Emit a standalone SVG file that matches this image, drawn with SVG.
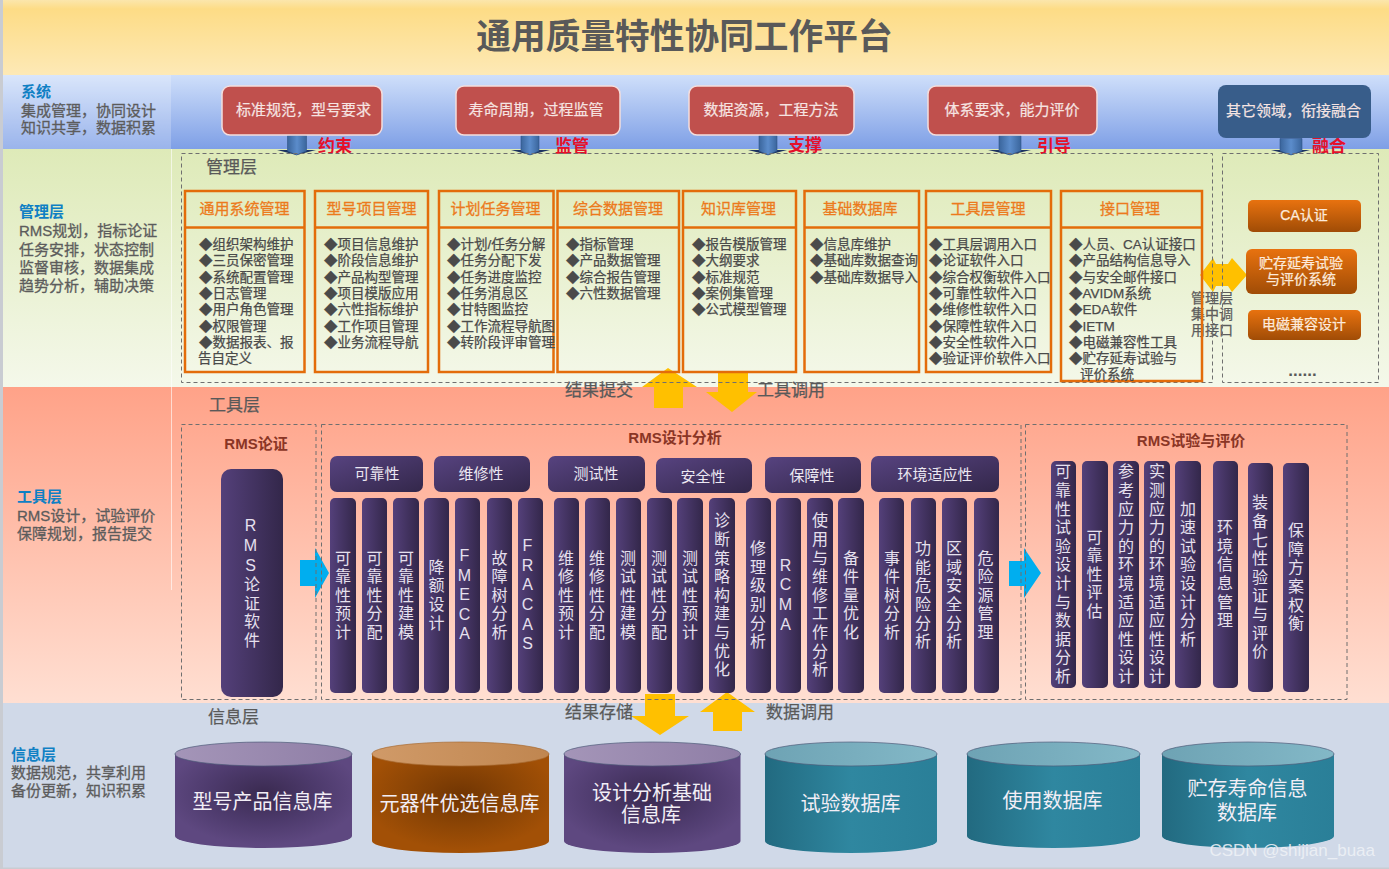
<svg xmlns="http://www.w3.org/2000/svg" width="1389" height="869" viewBox="0 0 1389 869">
<defs>
<linearGradient id="gTitle" x1="0" y1="0" x2="0" y2="1"><stop offset="0" stop-color="#fbe6ac"/><stop offset=".12" stop-color="#fddc86"/><stop offset="1" stop-color="#fde9b6"/></linearGradient>
<linearGradient id="gSys" x1="0" y1="0" x2="0" y2="1"><stop offset="0" stop-color="#cfdffa"/><stop offset="1" stop-color="#7e9fe6"/></linearGradient>
<linearGradient id="gMgmt" x1="0" y1="0" x2="0" y2="1"><stop offset="0" stop-color="#deeab8"/><stop offset="1" stop-color="#f4f8ea"/></linearGradient>
<linearGradient id="gTool" x1="0" y1="0" x2="0" y2="1"><stop offset="0" stop-color="#ffa288"/><stop offset="1" stop-color="#ffdfd2"/></linearGradient>
<linearGradient id="gPillar" x1="0" y1="0" x2="1" y2="0"><stop offset="0" stop-color="#54407a"/><stop offset="1" stop-color="#33274a"/></linearGradient>
<linearGradient id="gChip" x1="0" y1="0" x2="1" y2="1"><stop offset="0" stop-color="#574380"/><stop offset="1" stop-color="#33274a"/></linearGradient>
<linearGradient id="gBlue" x1="0" y1="0" x2="1" y2="0"><stop offset="0" stop-color="#3a659c"/><stop offset=".5" stop-color="#5b8ccb"/><stop offset="1" stop-color="#3a659c"/></linearGradient>
<linearGradient id="gOrange" x1="0" y1="0" x2="0" y2="1"><stop offset="0" stop-color="#e8720f"/><stop offset="1" stop-color="#a04c06"/></linearGradient>
<radialGradient id="cPurple" cx=".5" cy=".42" r=".55"><stop offset="0" stop-color="#3a2a50"/><stop offset=".55" stop-color="#4d3a6c"/><stop offset="1" stop-color="#5e4880"/></radialGradient>
<radialGradient id="cOrange" cx=".5" cy=".42" r=".55"><stop offset="0" stop-color="#703503"/><stop offset=".55" stop-color="#8c4505"/><stop offset="1" stop-color="#a25006"/></radialGradient>
<linearGradient id="cTeal" x1="0" y1="0" x2="1" y2="0"><stop offset="0" stop-color="#226a80"/><stop offset=".5" stop-color="#2f87a0"/><stop offset="1" stop-color="#2a7f98"/></linearGradient>
<linearGradient id="tPurple" x1="0" y1="0" x2="1" y2="0"><stop offset="0" stop-color="#a495b8"/><stop offset="1" stop-color="#8f7ea6"/></linearGradient>
<linearGradient id="tOrange" x1="0" y1="0" x2="1" y2="0"><stop offset="0" stop-color="#d09a68"/><stop offset="1" stop-color="#c08650"/></linearGradient>
<linearGradient id="tTeal" x1="0" y1="0" x2="1" y2="0"><stop offset="0" stop-color="#6ea3b4"/><stop offset="1" stop-color="#83b8c7"/></linearGradient>
</defs>
<style>
text{font-family:"Liberation Sans","Noto Sans CJK SC",sans-serif}
.dash{fill:none;stroke:#6f6f6f;stroke-width:1;stroke-dasharray:4 3}
.box{fill:none;stroke:#e36c0a;stroke-width:2.5}
.hd{font-size:15px;fill:#ec7a1c;stroke:#ec7a1c;stroke-width:.3;text-anchor:middle}
.it{font-size:13.5px;fill:#4a4a4a;stroke:#4a4a4a;stroke-width:.25}
.side{font-size:15px;fill:#5c5c5c;stroke:#5c5c5c;stroke-width:.3}
.sideh{font-size:15px;fill:#0f80c4;font-weight:700}
.lay{font-size:17px;fill:#595959;stroke:#595959;stroke-width:.25}
.small{font-size:14px;fill:#5c5c5c;stroke:#5c5c5c;stroke-width:.25}
.top{fill:#c0504d;stroke:#f4dedd;stroke-width:1.5}
.toptx{font-size:15px;fill:#f6e4e2;stroke:#f6e4e2;stroke-width:.2;text-anchor:middle}
.red{font-size:17px;fill:#e5102a;font-weight:700}
.wing{fill:#1c3360}
.arr{fill:url(#gBlue);stroke:#2f5486;stroke-width:.6}
.yel{fill:#ffc000}
.cy{fill:#00aeef}
.pil{fill:url(#gPillar)}
.chip{fill:url(#gChip)}
.chtx{font-size:15px;fill:#ece8f2;text-anchor:middle}
.v{font-size:16px;fill:#e6e0ee;writing-mode:vertical-rl;text-orientation:upright;text-anchor:middle;letter-spacing:2.6px;transform:translateX(-1.5px)}
.sec{font-size:15px;fill:#8a3525;font-weight:700;text-anchor:middle}
.db{font-size:20px;fill:#f2eef6;text-anchor:middle}
.or{fill:url(#gOrange)}
.ortx{font-size:14px;fill:#fdeadb;stroke:#fdeadb;stroke-width:.25;text-anchor:middle}
.edge{stroke:#4d5a78;stroke-width:.7}
</style>

<g id="bands">
<rect width="1389" height="869" fill="#c9ccd2"/>
<rect x="3" y="0" width="1386" height="75" fill="url(#gTitle)"/>
<rect x="3" y="75" width="1386" height="74" fill="url(#gSys)"/>
<rect x="3" y="75" width="168" height="74" fill="#ffffff" opacity=".22"/>
<rect x="3" y="149" width="1386" height="238" fill="url(#gMgmt)"/>
<rect x="3" y="387" width="1386" height="316" fill="url(#gTool)"/>
<rect x="3" y="703" width="1386" height="164.500" fill="#d0d9e8"/>
<path d="M171.500 149V590" stroke="#fff" stroke-opacity=".6" fill="none"/>
</g>

<text id="title" x="684.500" y="49" font-size="34.700" font-weight="700" fill="#595959" text-anchor="middle">通用质量特性协同工作平台</text>

<g id="side-labels">
<text class="sideh" x="21" y="97">系统</text>
<text class="side" x="21" y="116">集成管理，协同设计</text>
<text class="side" x="21" y="133">知识共享，数据积累</text>
<text class="sideh" x="19" y="217">管理层</text>
<text class="side" x="19" y="236">RMS规划，指标论证</text>
<text class="side" x="19" y="255">任务安排，状态控制</text>
<text class="side" x="19" y="273">监督审核，数据集成</text>
<text class="side" x="19" y="291">趋势分析，辅助决策</text>
<text class="sideh" x="17" y="502">工具层</text>
<text class="side" x="17" y="521">RMS设计，试验评价</text>
<text class="side" x="17" y="539">保障规划，报告提交</text>
<text class="sideh" x="11" y="760">信息层</text>
<text class="side" x="11" y="778">数据规范，共享利用</text>
<text class="side" x="11" y="796">备份更新，知识积累</text>
</g>

<g id="connectors">
<path class="wing" d="M277 150H316L296.500 155Z"/><path class="arr" d="M287.500 135.500H306.500V151L296.500 155L287.500 151Z"/>
<path class="wing" d="M511 150H550L530 155Z"/><path class="arr" d="M521 135.500H539V151L530 155L521 151Z"/>
<path class="wing" d="M748 150H787L768 155Z"/><path class="arr" d="M759 135.500H777V151L768 155L759 151Z"/>
<path class="wing" d="M988 150H1031L1010 155Z"/><path class="arr" d="M999 135.500H1021V151L1010 155L999 151Z"/>
<path class="wing" d="M1271 150H1310L1291 155Z"/><path class="arr" d="M1280 138.500H1302V151L1291 155L1280 151Z"/>
<path class="yel" d="M668 368L697 387H683V408H654V387H642Z"/>
<path class="yel" d="M718 371H748V392H757L732 412L706 392H718Z"/>
<path class="yel" d="M645 694H675V716H689L660 735L631 716H645Z"/>
<path class="yel" d="M727 692L755 712H742V731H713V712H700Z"/>
<path class="yel" d="M1200 275L1213 258L1216 264H1228L1232 258L1247 275L1232 292L1228 286H1216L1213 292Z"/>
<path class="cy" d="M300 560H315V548L329 573L315 598V586H300Z"/>
<path class="cy" d="M1009 561H1024V548L1041 573L1024 598V586H1009Z"/>
</g>

<g id="connector-labels">
<text class="red" x="318" y="152">约束</text>
<text class="red" x="555" y="152">监管</text>
<text class="red" x="788" y="151">支撑</text>
<text class="red" x="1037" y="152">引导</text>
<text class="red" x="1312" y="152">融合</text>
<text class="lay" x="565" y="396">结果提交</text>
<text class="lay" x="757" y="396">工具调用</text>
<text class="lay" x="565" y="718">结果存储</text>
<text class="lay" x="766" y="718">数据调用</text>
<text class="small" x="1191" y="303">管理层</text>
<text class="small" x="1191" y="319">集中调</text>
<text class="small" x="1191" y="335">用接口</text>
</g>

<g id="sys-1"><rect class="top" x="222" y="86" width="160" height="49" rx="8"/><text class="toptx" x="303.500" y="115">标准规范，型号要求</text></g>
<g id="sys-2"><rect class="top" x="456" y="86" width="164" height="49" rx="8"/><text class="toptx" x="536" y="115">寿命周期，过程监管</text></g>
<g id="sys-3"><rect class="top" x="689" y="86" width="165" height="49" rx="8"/><text class="toptx" x="771" y="115">数据资源，工程方法</text></g>
<g id="sys-4"><rect class="top" x="928" y="86" width="169" height="49" rx="8"/><text class="toptx" x="1012" y="115">体系要求，能力评价</text></g>
<g id="sys-5"><rect x="1218" y="85" width="153" height="53" rx="8" fill="#385d8a"/><text class="toptx" x="1293.500" y="116">其它领域，衔接融合</text></g>

<g id="mgmt-frames">
<rect class="dash" x="181.500" y="153.500" width="1031" height="229"/>
<rect class="dash" x="1222.500" y="153.500" width="156" height="229"/>
<text class="lay" x="206" y="173">管理层</text>
</g>

<g id="m1"><rect class="box" x="185" y="191" width="119.500" height="181"/><path class="box" d="M185 227.500H304.500"/><text class="hd" x="244.500" y="214">通用系统管理</text>
<text class="it" x="199" y="249">◆组织架构维护</text><text class="it" x="199" y="265">◆三员保密管理</text><text class="it" x="199" y="281.500">◆系统配置管理</text><text class="it" x="199" y="298">◆日志管理</text><text class="it" x="199" y="314">◆用户角色管理</text><text class="it" x="199" y="330.500">◆权限管理</text><text class="it" x="199" y="347">◆数据报表、报</text><text class="it" x="198" y="363">告自定义</text></g>
<g id="m2"><rect class="box" x="315" y="191" width="113" height="181"/><path class="box" d="M315 227.500H428"/><text class="hd" x="371.500" y="214">型号项目管理</text>
<text class="it" x="324" y="249">◆项目信息维护</text><text class="it" x="324" y="265">◆阶段信息维护</text><text class="it" x="324" y="281.500">◆产品构型管理</text><text class="it" x="324" y="298">◆项目模版应用</text><text class="it" x="324" y="314">◆六性指标维护</text><text class="it" x="324" y="330.500">◆工作项目管理</text><text class="it" x="324" y="347">◆业务流程导航</text></g>
<g id="m3"><rect class="box" x="439" y="191" width="114.500" height="181"/><path class="box" d="M439 227.500H553.500"/><text class="hd" x="495.500" y="214">计划任务管理</text>
<text class="it" x="447" y="249">◆计划/任务分解</text><text class="it" x="447" y="265">◆任务分配下发</text><text class="it" x="447" y="281.500">◆任务进度监控</text><text class="it" x="447" y="298">◆任务消息区</text><text class="it" x="447" y="314">◆甘特图监控</text><text class="it" x="447" y="330.500">◆工作流程导航图</text><text class="it" x="447" y="347">◆转阶段评审管理</text></g>
<g id="m4"><rect class="box" x="557.500" y="191" width="121.500" height="181"/><path class="box" d="M557.500 227.500H679"/><text class="hd" x="618" y="214">综合数据管理</text>
<text class="it" x="566" y="249">◆指标管理</text><text class="it" x="566" y="265">◆产品数据管理</text><text class="it" x="566" y="281.500">◆综合报告管理</text><text class="it" x="566" y="298">◆六性数据管理</text></g>
<g id="m5"><rect class="box" x="683" y="191" width="113" height="181"/><path class="box" d="M683 227.500H796"/><text class="hd" x="738.500" y="214">知识库管理</text>
<text class="it" x="692" y="249">◆报告模版管理</text><text class="it" x="692" y="265">◆大纲要求</text><text class="it" x="692" y="281.500">◆标准规范</text><text class="it" x="692" y="298">◆案例集管理</text><text class="it" x="692" y="314">◆公式模型管理</text></g>
<g id="m6"><rect class="box" x="804.500" y="191" width="114.500" height="181"/><path class="box" d="M804.500 227.500H919"/><text class="hd" x="860" y="214">基础数据库</text>
<text class="it" x="810" y="249">◆信息库维护</text><text class="it" x="810" y="265">◆基础库数据查询</text><text class="it" x="810" y="281.500">◆基础库数据导入</text></g>
<g id="m7"><rect class="box" x="926" y="191" width="125" height="181"/><path class="box" d="M926 227.500H1051"/><text class="hd" x="988" y="214">工具层管理</text>
<text class="it" x="929" y="249">◆工具层调用入口</text><text class="it" x="929" y="265">◆论证软件入口</text><text class="it" x="929" y="281.500">◆综合权衡软件入口</text><text class="it" x="929" y="298">◆可靠性软件入口</text><text class="it" x="929" y="314">◆维修性软件入口</text><text class="it" x="929" y="330.500">◆保障性软件入口</text><text class="it" x="929" y="347">◆安全性软件入口</text><text class="it" x="929" y="363">◆验证评价软件入口</text></g>
<g id="m8"><rect class="box" x="1061" y="191" width="141" height="190"/><path class="box" d="M1061 227.500H1202"/><text class="hd" x="1130" y="214">接口管理</text>
<text class="it" x="1069" y="249">◆人员、CA认证接口</text><text class="it" x="1069" y="265">◆产品结构信息导入</text><text class="it" x="1069" y="281.500">◆与安全邮件接口</text><text class="it" x="1069" y="298">◆AVIDM系统</text><text class="it" x="1069" y="314">◆EDA软件</text><text class="it" x="1069" y="330.500">◆IETM</text><text class="it" x="1069" y="347">◆电磁兼容性工具</text><text class="it" x="1069" y="363">◆贮存延寿试验与</text><text class="it" x="1080" y="379">评价系统</text></g>

<g id="ext-ca"><rect class="or" x="1248" y="200" width="113" height="32" rx="5"/><text class="ortx" x="1304" y="220">CA认证</text></g>
<g id="ext-store"><rect class="or" x="1246" y="249" width="111" height="45" rx="6"/><text class="ortx" x="1301" y="268">贮存延寿试验</text><text class="ortx" x="1301" y="284">与评价系统</text></g>
<g id="ext-emc"><rect class="or" x="1248" y="310" width="113" height="30" rx="5"/><text class="ortx" x="1304" y="329">电磁兼容设计</text></g>
<text id="ext-more" x="1302.500" y="376" font-size="17" font-weight="700" fill="#595959" text-anchor="middle">......</text>

<g id="tool-frames">
<text class="lay" x="209" y="411">工具层</text>
<rect class="dash" x="181.500" y="424.500" width="134.500" height="275"/>
<rect class="dash" x="321.500" y="424.500" width="699.500" height="275"/>
<rect class="dash" x="1025.500" y="424.500" width="321.500" height="275"/>
<text class="sec" x="256" y="449">RMS论证</text>
<text class="sec" x="675" y="443">RMS设计分析</text>
<text class="sec" x="1191" y="446">RMS试验与评价</text>
</g>

<g id="rms-arg"><rect class="pil" x="221" y="469" width="62" height="228" rx="10"/><text class="v" x="252" y="584">RMS论证软件</text></g>

<g id="chips">
<g id="c1"><rect class="chip" x="330" y="456" width="93" height="36" rx="7"/><text class="chtx" x="377" y="479">可靠性</text></g>
<g id="c2"><rect class="chip" x="434" y="456" width="96" height="36" rx="7"/><text class="chtx" x="481" y="479">维修性</text></g>
<g id="c3"><rect class="chip" x="548" y="456" width="97" height="36" rx="7"/><text class="chtx" x="596" y="479">测试性</text></g>
<g id="c4"><rect class="chip" x="656" y="458" width="96" height="35" rx="7"/><text class="chtx" x="703" y="482">安全性</text></g>
<g id="c5"><rect class="chip" x="765" y="457" width="96" height="36" rx="7"/><text class="chtx" x="812" y="481">保障性</text></g>
<g id="c6"><rect class="chip" x="871" y="456" width="128" height="36" rx="7"/><text class="chtx" x="935" y="480">环境适应性</text></g>
</g>

<g id="design-pillars">
<g id="d1"><rect class="pil" x="330" y="498" width="26" height="195" rx="5"/><text class="v" x="343" y="596">可靠性预计</text></g>
<g id="d2"><rect class="pil" x="362" y="498" width="25" height="195" rx="5"/><text class="v" x="374.500" y="596">可靠性分配</text></g>
<g id="d3"><rect class="pil" x="393" y="498" width="26" height="195" rx="5"/><text class="v" x="406" y="596">可靠性建模</text></g>
<g id="d4"><rect class="pil" x="424" y="498" width="25" height="195" rx="5"/><text class="v" x="436.500" y="596">降额设计</text></g>
<g id="d5"><rect class="pil" x="455" y="498" width="25" height="195" rx="5"/><text class="v" x="466" y="596">FMECA</text></g>
<g id="d6"><rect class="pil" x="487" y="498" width="25" height="195" rx="5"/><text class="v" x="499.500" y="596">故障树分析</text></g>
<g id="d7"><rect class="pil" x="518" y="498" width="25" height="195" rx="5"/><text class="v" x="529" y="596">FRACAS</text></g>
<g id="d8"><rect class="pil" x="554" y="498" width="25" height="195" rx="5"/><text class="v" x="566" y="596">维修性预计</text></g>
<g id="d9"><rect class="pil" x="585" y="498" width="25" height="195" rx="5"/><text class="v" x="597" y="596">维修性分配</text></g>
<g id="d10"><rect class="pil" x="616" y="498" width="25" height="195" rx="5"/><text class="v" x="628" y="596">测试性建模</text></g>
<g id="d11"><rect class="pil" x="647" y="498" width="25" height="195" rx="5"/><text class="v" x="659" y="596">测试性分配</text></g>
<g id="d12"><rect class="pil" x="677" y="498" width="26" height="195" rx="5"/><text class="v" x="690" y="596">测试性预计</text></g>
<g id="d13"><rect class="pil" x="709" y="498" width="26" height="195" rx="5"/><text class="v" x="722" y="596">诊断策略构建与优化</text></g>
<g id="d14"><rect class="pil" x="746" y="498" width="25" height="195" rx="5"/><text class="v" x="758" y="596">修理级别分析</text></g>
<g id="d15"><rect class="pil" x="776" y="498" width="25" height="195" rx="5"/><text class="v" x="787" y="596">RCMA</text></g>
<g id="d16"><rect class="pil" x="807" y="498" width="26" height="195" rx="5"/><text class="v" x="820" y="596">使用与维修工作分析</text></g>
<g id="d17"><rect class="pil" x="838" y="498" width="26" height="195" rx="5"/><text class="v" x="851" y="596">备件量优化</text></g>
<g id="d18"><rect class="pil" x="879" y="498" width="25" height="195" rx="5"/><text class="v" x="892" y="596">事件树分析</text></g>
<g id="d19"><rect class="pil" x="911" y="498" width="25" height="195" rx="5"/><text class="v" x="923" y="596">功能危险分析</text></g>
<g id="d20"><rect class="pil" x="942" y="498" width="25" height="195" rx="5"/><text class="v" x="954" y="596">区域安全分析</text></g>
<g id="d21"><rect class="pil" x="974" y="498" width="25" height="195" rx="5"/><text class="v" x="985.500" y="596">危险源管理</text></g>
</g>

<g id="test-pillars">
<g id="t1"><rect class="pil" x="1051" y="461" width="25" height="227" rx="5"/><text class="v" x="1063" y="575">可靠性试验设计与数据分析</text></g>
<g id="t2"><rect class="pil" x="1082" y="461" width="26" height="227" rx="5"/><text class="v" x="1094.500" y="575">可靠性评估</text></g>
<g id="t3"><rect class="pil" x="1113" y="461" width="26" height="227" rx="5"/><text class="v" x="1126" y="575">参考应力的环境适应性设计</text></g>
<g id="t4"><rect class="pil" x="1144" y="461" width="26" height="227" rx="5"/><text class="v" x="1157" y="575">实测应力的环境适应性设计</text></g>
<g id="t5"><rect class="pil" x="1175" y="461" width="26" height="227" rx="5"/><text class="v" x="1188" y="575">加速试验设计分析</text></g>
<g id="t6"><rect class="pil" x="1213" y="461" width="25" height="227" rx="5"/><text class="v" x="1225" y="575">环境信息管理</text></g>
<g id="t7"><rect class="pil" x="1248" y="463" width="25" height="229" rx="5"/><text class="v" x="1260" y="578">装备七性验证与评价</text></g>
<g id="t8"><rect class="pil" x="1283" y="463" width="26" height="229" rx="5"/><text class="v" x="1296" y="578">保障方案权衡</text></g>
</g>

<text class="lay" x="208" y="723">信息层</text>

<g id="db1"><path fill="url(#cPurple)" d="M175 754V836A88.500 12 0 0 0 352 836V754Z"/><ellipse class="edge" cx="263.500" cy="754" rx="88.500" ry="12" fill="url(#tPurple)"/><text class="db" x="262.500" y="809">型号产品信息库</text></g>
<g id="db2"><path fill="url(#cOrange)" d="M372 754V841A88.500 12 0 0 0 549 841V754Z"/><ellipse cx="460.500" cy="754" rx="88.500" ry="12" fill="url(#tOrange)" stroke="#a86a30" stroke-width=".7"/><text class="db" x="459.500" y="811">元器件优选信息库</text></g>
<g id="db3"><path fill="url(#cPurple)" d="M564 754V841A88.250 12 0 0 0 740.500 841V754Z"/><ellipse class="edge" cx="652.250" cy="754" rx="88.250" ry="12" fill="url(#tPurple)"/><text class="db" x="652" y="800">设计分析基础</text><text class="db" x="651" y="822">信息库</text></g>
<g id="db4"><path fill="url(#cTeal)" d="M765 754V841A86 12 0 0 0 937 841V754Z"/><ellipse class="edge" cx="851" cy="754" rx="86" ry="12" fill="url(#tTeal)"/><text class="db" x="850.500" y="811">试验数据库</text></g>
<g id="db5"><path fill="url(#cTeal)" d="M967 754V836A86.500 12 0 0 0 1140 836V754Z"/><ellipse class="edge" cx="1053.500" cy="754" rx="86.500" ry="12" fill="url(#tTeal)"/><text class="db" x="1052.500" y="808">使用数据库</text></g>
<g id="db6"><path fill="url(#cTeal)" d="M1162 754V836A86 12 0 0 0 1334 836V754Z"/><ellipse class="edge" cx="1248" cy="754" rx="86" ry="12" fill="url(#tTeal)"/><text class="db" x="1247.500" y="796">贮存寿命信息</text><text class="db" x="1247" y="820">数据库</text></g>

<text id="watermark" x="1375" y="856" font-size="17" fill="#eef1f6" fill-opacity=".9" text-anchor="end">CSDN @shijian_buaa</text>
</svg>
